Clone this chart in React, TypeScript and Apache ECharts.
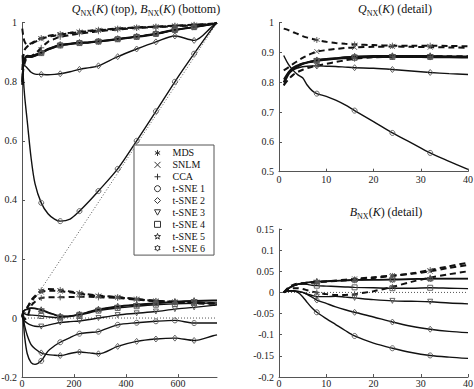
import React, { useEffect, useRef } from 'react';
import * as echarts from 'echarts';

const FONT = 'Liberation Serif, serif';

const methods = ['MDS', 'SNLM', 'CCA', 't-SNE 1', 't-SNE 2', 't-SNE 3', 't-SNE 4', 't-SNE 5', 't-SNE 6'];
const isDashed = [true, true, true, false, false, false, false, false, false];

// Overview K grid and marker positions
const kOverview = [1, 5, 10, 20, 35, 50, 74, 100, 125, 147, 185, 221, 260, 294, 368, 441, 515, 588, 662, 735, 750];
const overviewMarkerK = [74, 147, 221, 294, 368, 441, 515, 588, 662];
// Detail K grid and marker positions
const kDetail = [1, 2, 3, 4, 5, 6, 7, 8, 10, 12, 14, 16, 20, 24, 28, 32, 36, 40];
const detailMarkerK = [8, 16, 24, 32];

// Q_NX overview (top part of left panel)
const qOvMDS = [0.98, 0.955, 0.936, 0.925, 0.93, 0.938, 0.948, 0.955, 0.959, 0.962, 0.966, 0.97, 0.973, 0.976, 0.98, 0.984, 0.987, 0.99, 0.993, 0.997, 1];
const qOvSNLM = [0.84, 0.882, 0.908, 0.919, 0.927, 0.935, 0.945, 0.952, 0.956, 0.96, 0.964, 0.968, 0.971, 0.974, 0.979, 0.983, 0.986, 0.989, 0.992, 0.996, 1];
const qOvCCA = [0.79, 0.842, 0.862, 0.884, 0.887, 0.895, 0.915, 0.935, 0.945, 0.952, 0.958, 0.963, 0.967, 0.971, 0.977, 0.982, 0.985, 0.988, 0.991, 0.996, 1];
const qOvTSNE1 = [0.89, 0.815, 0.753, 0.668, 0.542, 0.455, 0.39, 0.353, 0.335, 0.328, 0.335, 0.362, 0.397, 0.43, 0.505, 0.6, 0.7, 0.8, 0.895, 0.985, 1];
const qOvTSNE2 = [0.8, 0.852, 0.854, 0.847, 0.832, 0.826, 0.825, 0.824, 0.825, 0.827, 0.834, 0.842, 0.848, 0.854, 0.885, 0.911, 0.935, 0.955, 0.94, 0.99, 1];
const qOvTSNE3 = [0.8, 0.862, 0.876, 0.884, 0.883, 0.887, 0.896, 0.908, 0.916, 0.922, 0.927, 0.93, 0.932, 0.935, 0.943, 0.951, 0.961, 0.974, 0.984, 0.995, 1];
const qOvTSNE4 = [0.79, 0.86, 0.875, 0.884, 0.884, 0.888, 0.897, 0.909, 0.917, 0.923, 0.928, 0.931, 0.933, 0.936, 0.944, 0.952, 0.962, 0.975, 0.985, 0.995, 1];
const qOvTSNE5 = [0.81, 0.864, 0.879, 0.889, 0.888, 0.892, 0.9, 0.912, 0.92, 0.926, 0.93, 0.933, 0.935, 0.938, 0.946, 0.954, 0.964, 0.977, 0.986, 0.996, 1];
const qOvTSNE6 = [0.8, 0.863, 0.878, 0.888, 0.887, 0.891, 0.899, 0.911, 0.919, 0.925, 0.929, 0.932, 0.934, 0.937, 0.945, 0.953, 0.963, 0.976, 0.986, 0.996, 1];

// B_NX overview (bottom part of left panel)
const bOvMDS = [0.005, 0.022, 0.026, 0.034, 0.06, 0.075, 0.093, 0.098, 0.097, 0.095, 0.09, 0.085, 0.08, 0.076, 0.071, 0.064, 0.058, 0.055, 0.052, 0.05, 0.05];
const bOvSNLM = [0.005, 0.021, 0.026, 0.036, 0.056, 0.072, 0.088, 0.092, 0.092, 0.091, 0.087, 0.082, 0.078, 0.074, 0.07, 0.064, 0.058, 0.055, 0.052, 0.05, 0.05];
const bOvCCA = [0.005, 0.006, -0.004, 0.003, 0.041, 0.055, 0.068, 0.07, 0.07, 0.07, 0.071, 0.072, 0.072, 0.07, 0.068, 0.062, 0.057, 0.053, 0.05, 0.048, 0.048];
const bOvTSNE1 = [0.005, -0.01, -0.062, -0.12, -0.151, -0.157, -0.145, -0.112, -0.094, -0.082, -0.066, -0.053, -0.049, -0.046, -0.023, -0.016, -0.011, -0.008, -0.017, -0.017, -0.017];
const bOvTSNE2 = [0.005, 0.0, -0.026, -0.058, -0.09, -0.104, -0.118, -0.124, -0.126, -0.127, -0.12, -0.115, -0.118, -0.121, -0.096, -0.079, -0.071, -0.068, -0.076, -0.06, -0.057];
const bOvTSNE3 = [0.005, 0.0, -0.01, -0.017, -0.024, -0.028, -0.029, -0.024, -0.019, -0.015, -0.012, -0.01, -0.005, 0.0, 0.01, 0.016, 0.022, 0.03, 0.036, 0.043, 0.045];
const bOvTSNE4 = [0.005, 0.02, 0.015, 0.011, 0.01, 0.009, 0.007, 0.004, 0.002, 0.002, 0.006, 0.011, 0.018, 0.025, 0.034, 0.04, 0.045, 0.048, 0.05, 0.051, 0.051];
const bOvTSNE5 = [0.005, 0.022, 0.027, 0.03, 0.034, 0.033, 0.028, 0.02, 0.012, 0.006, 0.007, 0.013, 0.022, 0.03, 0.04, 0.046, 0.051, 0.056, 0.059, 0.06, 0.06];
const bOvTSNE6 = [0.005, 0.021, 0.026, 0.03, 0.033, 0.032, 0.026, 0.018, 0.011, 0.005, 0.006, 0.012, 0.02, 0.028, 0.038, 0.044, 0.049, 0.054, 0.057, 0.058, 0.058];

// Q_NX detail
const qDtMDS = [0.98, 0.975, 0.968, 0.962, 0.955, 0.95, 0.946, 0.942, 0.936, 0.932, 0.929, 0.927, 0.925, 0.923, 0.923, 0.923, 0.922, 0.921];
const qDtSNLM = [0.84, 0.85, 0.862, 0.872, 0.882, 0.89, 0.897, 0.903, 0.908, 0.912, 0.915, 0.917, 0.919, 0.92, 0.919, 0.918, 0.917, 0.916];
const qDtCCA = [0.79, 0.81, 0.825, 0.835, 0.842, 0.848, 0.852, 0.856, 0.862, 0.868, 0.874, 0.879, 0.884, 0.886, 0.887, 0.887, 0.887, 0.887];
const qDtTSNE1 = [0.89, 0.86, 0.84, 0.825, 0.815, 0.79, 0.772, 0.762, 0.753, 0.74, 0.724, 0.705, 0.668, 0.63, 0.597, 0.563, 0.535, 0.508];
const qDtTSNE2 = [0.8, 0.83, 0.842, 0.848, 0.852, 0.854, 0.855, 0.855, 0.854, 0.853, 0.851, 0.849, 0.847, 0.843, 0.838, 0.833, 0.829, 0.826];
const qDtTSNE3 = [0.8, 0.83, 0.845, 0.855, 0.862, 0.866, 0.869, 0.872, 0.876, 0.879, 0.881, 0.883, 0.884, 0.884, 0.884, 0.883, 0.883, 0.882];
const qDtTSNE4 = [0.79, 0.825, 0.842, 0.852, 0.86, 0.865, 0.868, 0.871, 0.875, 0.878, 0.88, 0.882, 0.884, 0.885, 0.885, 0.885, 0.884, 0.884];
const qDtTSNE5 = [0.81, 0.835, 0.85, 0.858, 0.864, 0.868, 0.872, 0.875, 0.879, 0.882, 0.885, 0.887, 0.889, 0.889, 0.889, 0.889, 0.888, 0.888];
const qDtTSNE6 = [0.8, 0.832, 0.848, 0.857, 0.863, 0.867, 0.871, 0.874, 0.878, 0.881, 0.884, 0.886, 0.888, 0.888, 0.888, 0.887, 0.887, 0.886];

// B_NX detail
const bDtMDS = [0, 0.012, 0.018, 0.021, 0.022, 0.023, 0.024, 0.025, 0.026, 0.027, 0.028, 0.03, 0.034, 0.039, 0.045, 0.053, 0.062, 0.07];
const bDtSNLM = [0, 0.01, 0.016, 0.019, 0.021, 0.022, 0.023, 0.024, 0.026, 0.028, 0.03, 0.032, 0.036, 0.04, 0.044, 0.05, 0.058, 0.065];
const bDtCCA = [0, 0.006, 0.01, 0.01, 0.008, 0.005, 0.002, 0, -0.004, -0.006, -0.006, -0.004, 0.003, 0.013, 0.025, 0.035, 0.043, 0.05];
const bDtTSNE1 = [0, 0.004, 0.004, 0.0, -0.01, -0.024, -0.037, -0.047, -0.062, -0.076, -0.09, -0.103, -0.12, -0.132, -0.142, -0.149, -0.153, -0.156];
const bDtTSNE2 = [0, 0.003, 0.003, 0.002, 0.0, -0.005, -0.011, -0.018, -0.026, -0.034, -0.041, -0.047, -0.058, -0.07, -0.08, -0.087, -0.092, -0.095];
const bDtTSNE3 = [0, 0.003, 0.004, 0.003, 0.0, -0.004, -0.007, -0.01, -0.01, -0.009, -0.011, -0.013, -0.017, -0.02, -0.021, -0.022, -0.025, -0.027];
const bDtTSNE4 = [0, 0.01, 0.016, 0.019, 0.02, 0.019, 0.017, 0.016, 0.015, 0.014, 0.013, 0.012, 0.011, 0.01, 0.01, 0.011, 0.01, 0.009];
const bDtTSNE5 = [0, 0.01, 0.016, 0.02, 0.022, 0.024, 0.025, 0.026, 0.027, 0.028, 0.029, 0.03, 0.03, 0.031, 0.032, 0.033, 0.033, 0.033];
const bDtTSNE6 = [0, 0.009, 0.015, 0.019, 0.021, 0.023, 0.024, 0.025, 0.026, 0.027, 0.028, 0.029, 0.03, 0.03, 0.031, 0.032, 0.032, 0.032];

// Reference lines
const diagK = [0, 750];
const diagV = [0, 1];
const zeroOvK = [0, 750];
const zeroDtK = [0, 40];

const qOverview = [qOvMDS, qOvSNLM, qOvCCA, qOvTSNE1, qOvTSNE2, qOvTSNE3, qOvTSNE4, qOvTSNE5, qOvTSNE6];
const bOverview = [bOvMDS, bOvSNLM, bOvCCA, bOvTSNE1, bOvTSNE2, bOvTSNE3, bOvTSNE4, bOvTSNE5, bOvTSNE6];
const qDetail = [qDtMDS, qDtSNLM, qDtCCA, qDtTSNE1, qDtTSNE2, qDtTSNE3, qDtTSNE4, qDtTSNE5, qDtTSNE6];
const bDetail = [bDtMDS, bDtSNLM, bDtCCA, bDtTSNE1, bDtTSNE2, bDtTSNE3, bDtTSNE4, bDtTSNE5, bDtTSNE6];

const ASTER = 'path://M5,0L5,10M0.67,2.5L9.33,7.5M0.67,7.5L9.33,2.5';
const CROSS = 'path://M0,0L10,10M0,10L10,0';
const PLUS = 'path://M5,0L5,10M0,5L10,5';
const TRI_DOWN = 'path://M0,0L10,0L5,9Z';
const PENTA = 'path://M5,0L6.176,3.382L9.755,3.455L6.902,5.618L7.939,9.045L5,7L2.061,9.045L3.098,5.618L0.245,3.455L3.824,3.382Z';
const HEXA = 'path://M5,0L6.443,2.5L9.33,2.5L7.887,5L9.33,7.5L6.443,7.5L5,10L3.557,7.5L0.67,7.5L2.113,5L0.67,2.5L3.557,2.5Z';
const SYMBOLS = [ASTER, CROSS, PLUS, 'circle', 'diamond', TRI_DOWN, 'rect', PENTA, HEXA];
const SIZES: any[] = [6, 5, 6, 5, [5, 6], 5, 5, 6, 6];

function lineSeries(idx: number, ks: number[], vals: number[], markerKs: number[], axis: number) {
  const marks = new Set(markerKs);
  const dashed = isDashed[idx];
  return {
    type: 'line',
    name: methods[idx],
    xAxisIndex: axis,
    yAxisIndex: axis,
    data: ks.map((k, i) => [k, vals[i]]),
    symbol: (v: number[]) => (marks.has(v[0]) ? SYMBOLS[idx] : 'none'),
    symbolSize: SIZES[idx],
    showAllSymbol: true,
    smooth: 0.3,
    lineStyle: { color: '#111', width: dashed ? 2 : 1.4, type: dashed ? [6, 4] : 'solid' },
    itemStyle: { color: 'rgba(0,0,0,0)', borderColor: '#555', borderWidth: 0.9 },
    emphasis: { disabled: true },
    silent: true,
    z: dashed ? 3 : 2,
  };
}

function refLine(name: string, ks: number[], vals: number[], axis: number) {
  return {
    type: 'line',
    name,
    xAxisIndex: axis,
    yAxisIndex: axis,
    data: ks.map((k, i) => [k, vals[i]]),
    symbol: 'none',
    lineStyle: { color: '#555', width: 1, type: [1, 2] },
    silent: true,
    z: 1,
  };
}

const axisCommon = {
  axisLine: { show: true, onZero: false, lineStyle: { color: '#555', width: 1 } },
  axisTick: { show: true, inside: true, length: 3, lineStyle: { color: '#555' } },
  splitLine: { show: false },
  axisLabel: {
    fontFamily: FONT,
    fontSize: 10,
    color: '#222',
    margin: 5,
    formatter: (v: number) => String(+v.toFixed(2)),
  },
};

const titleRich = {
  i: { fontStyle: 'italic', fontSize: 12, fontFamily: FONT, lineHeight: 16, fill: '#111' },
  s: { fontSize: 8, fontFamily: FONT, lineHeight: 8, verticalAlign: 'bottom', fill: '#111' },
};

function titleText(text: string, x: number, y: number) {
  return {
    type: 'text',
    x,
    y,
    silent: true,
    style: {
      text,
      align: 'center',
      verticalAlign: 'middle',
      fontFamily: FONT,
      fontSize: 12,
      lineHeight: 16,
      fill: '#111',
      rich: titleRich,
    },
  };
}

export default function App() {
  const ref = useRef<HTMLDivElement>(null);
  useEffect(() => {
    if (!ref.current) return;
    const chart = echarts.init(ref.current, undefined, { renderer: 'svg' });
    const series: any[] = [
      refLine('diag', diagK, diagV, 0),
      refLine('zeroOv', zeroOvK, [0, 0], 0),
      refLine('zeroDt', zeroDtK, [0, 0], 2),
    ];
    methods.forEach((_, i) => {
      series.push(lineSeries(i, kOverview, qOverview[i], overviewMarkerK, 0));
      series.push(lineSeries(i, kOverview, bOverview[i], overviewMarkerK, 0));
      series.push(lineSeries(i, kDetail, qDetail[i], detailMarkerK, 1));
      series.push(lineSeries(i, kDetail, bDetail[i], detailMarkerK, 2));
    });
    const option: any = {
      animation: false,
      backgroundColor: '#fff',
      textStyle: { fontFamily: FONT },
      grid: [
        { left: 22, top: 22.7, width: 195, height: 354.4, outerBoundsMode: 'none', containLabel: false },
        { left: 279, top: 22.7, width: 189, height: 149, outerBoundsMode: 'none', containLabel: false },
        { left: 279, top: 229, width: 189, height: 148, outerBoundsMode: 'none', containLabel: false },
      ],
      xAxis: [
        { type: 'value', gridIndex: 0, min: 0, max: 750, interval: 200, ...axisCommon, axisLabel: { ...axisCommon.axisLabel, margin: 1, showMaxLabel: false } },
        { type: 'value', gridIndex: 1, min: 0, max: 40, interval: 10, ...axisCommon, axisLabel: { ...axisCommon.axisLabel, margin: 3 } },
        { type: 'value', gridIndex: 2, min: 0, max: 40, interval: 10, ...axisCommon, axisLabel: { ...axisCommon.axisLabel, margin: 1 } },
      ],
      yAxis: [
        { type: 'value', gridIndex: 0, min: -0.2, max: 1, interval: 0.2, ...axisCommon },
        { type: 'value', gridIndex: 1, min: 0.5, max: 1, interval: 0.1, ...axisCommon },
        { type: 'value', gridIndex: 2, min: -0.2, max: 0.15, interval: 0.05, ...axisCommon },
      ],
      legend: {
        orient: 'vertical',
        left: 134,
        top: 145,
        data: methods.map((m, i) => ({
          name: m,
          icon: SYMBOLS[i],
          itemStyle: { color: 'rgba(0,0,0,0)', borderColor: '#333', borderWidth: 1 },
        })),
        itemWidth: 6,
        itemHeight: 6,
        itemGap: 0,
        padding: [2, 9, 1, 20],
        backgroundColor: '#fff',
        borderColor: '#555',
        borderWidth: 1,
        selectedMode: false,
        textStyle: { fontFamily: FONT, fontSize: 10, color: '#111', lineHeight: 11.9, padding: [0, 0, 0, 7] },
        z: 10,
      },
      graphic: [
        titleText('{i|Q}{s|NX}({i|K}) (top), {i|B}{s|NX}({i|K}) (bottom)', 146, 9),
        titleText('{i|Q}{s|NX}({i|K}) (detail)', 395, 9),
        titleText('{i|B}{s|NX}({i|K}) (detail)', 386, 212),
      ],
      series,
    };
    chart.setOption(option);
    return () => chart.dispose();
  }, []);
  return <div ref={ref} style={{ position: 'fixed', left: 0, top: 0, width: 474, height: 389 }} />;
}
